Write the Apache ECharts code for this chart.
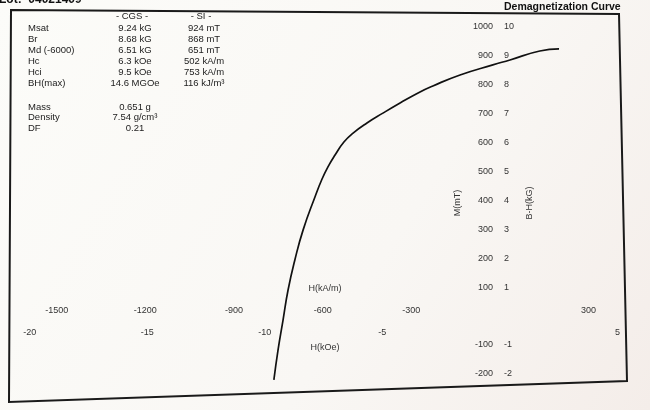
<!DOCTYPE html>
<html>
<head>
<meta charset="utf-8">
<script src="https://cdn.jsdelivr.net/npm/echarts@6/dist/echarts.min.js"></script>
<style>
html,body{margin:0;padding:0;background:#fafaf7;}
#chart{width:650px;height:410px;}
</style>
</head>
<body>
<div id="chart"></div>
<script>
// Demagnetization curve: H (kA/m) vs M (mT)
const hValues = [200, 135, 34, -24, -135, -227, -277, -338, -396, -450, -497, -528, -558, -582, -602, -626, -666, -694, -717, -734, -751, -765];
const mValues = [924, 917, 886, 869, 834, 796, 772, 737, 702, 668, 633, 602, 557, 516, 474, 412, 298, 194, 90, -14, -118, -221];

const hKAmTicks = [-1500, -1200, -900, -600, -300, 300];
const hKOeTicks = [-20, -15, -10, -5, 5];
const mTicks = [-200, -100, 100, 200, 300, 400, 500, 600, 700, 800, 900, 1000];
const bhTicks = [-2, -1, 1, 2, 3, 4, 5, 6, 7, 8, 9, 10];

const tableLabels = ['Msat', 'Br', 'Md (-6000)', 'Hc', 'Hci', 'BH(max)'];
const tableCGS = ['9.24 kG', '8.68 kG', '6.51 kG', '6.3 kOe', '9.5 kOe', '14.6 MGOe'];
const tableSI = ['924 mT', '868 mT', '651 mT', '502 kA/m', '753 kA/m', '116 kJ/m³'];
const extraLabels = ['Mass', 'Density', 'DF'];
const extraValues = ['0.651 g', '7.54 g/cm³', '0.21'];

const KOE_PER_KAM = 1 / 79.577;
const hMin = -1658, hMax = 474;
const mMin = -263, mMax = 1045;

// grid box
const W = 650, H = 410;
const gL = 10, gR = 10, gT = 14, gB = 18;
const gW = W - gL - gR, gH = H - gT - gB;
// pixel of the zero lines (so the axes can sit on them)
const zeroX = gL + (0 - hMin) / (hMax - hMin) * gW;
const zeroY = gT + (mMax - 0) / (mMax - mMin) * gH;

const chart = echarts.init(document.getElementById('chart'));
const font = 'Liberation Sans, Arial, sans-serif';
const txt = {fontFamily: font, fontSize: 9.5, fill: '#222'};

const graphics = [];
graphics.push({type: 'polygon', shape: {points: [[11, 10], [619, 14], [627, 381], [9, 402]]},
  style: {fill: 'none', stroke: '#1a1a1a', lineWidth: 2}, z: 1});
graphics.push({type: 'text', left: -1, top: -6, style: Object.assign({}, txt, {text: 'Lot:  04021409', fontWeight: 'bold', fontSize: 12, fill: '#111'})});
graphics.push({type: 'text', left: 504, top: 2, style: Object.assign({}, txt, {text: 'Demagnetization Curve', fontWeight: 'bold', fontSize: 10.5, fill: '#111'})});
graphics.push({type: 'text', x: 132, y: 16, style: Object.assign({}, txt, {text: '- CGS -', align: 'center', verticalAlign: 'middle'})});
graphics.push({type: 'text', x: 201, y: 16, style: Object.assign({}, txt, {text: '- SI -', align: 'center', verticalAlign: 'middle'})});
tableLabels.forEach((l, i) => {
  const y = 28 + i * 11.1;
  graphics.push({type: 'text', x: 28, y: y, style: Object.assign({}, txt, {text: l, verticalAlign: 'middle'})});
  graphics.push({type: 'text', x: 135, y: y, style: Object.assign({}, txt, {text: tableCGS[i], align: 'center', verticalAlign: 'middle'})});
  graphics.push({type: 'text', x: 204, y: y, style: Object.assign({}, txt, {text: tableSI[i], align: 'center', verticalAlign: 'middle'})});
});
extraLabels.forEach((l, i) => {
  const y = 107 + i * 10.7;
  graphics.push({type: 'text', x: 28, y: y, style: Object.assign({}, txt, {text: l, verticalAlign: 'middle'})});
  graphics.push({type: 'text', x: 135, y: y, style: Object.assign({}, txt, {text: extraValues[i], align: 'center', verticalAlign: 'middle'})});
});

const plain = v => String(Math.round(v));
const labelStyle = {fontFamily: font, fontSize: 9, color: '#333', formatter: plain};
const nameStyle = {fontFamily: font, fontSize: 9, color: '#333'};
const noLine = {show: false, onZero: false};

chart.setOption({
  backgroundColor: {type: 'linear', x: 0, y: 0, x2: 1, y2: 1,
    colorStops: [{offset: 0, color: '#fcfcf9'}, {offset: 0.6, color: '#f9f7f4'}, {offset: 1, color: '#f4ede9'}]},
  animation: false,
  grid: {left: gL, right: gR, top: gT, bottom: gB, show: false, containLabel: false, outerBoundsMode: 'none'},
  graphic: graphics,
  xAxis: [{
    type: 'value', min: hMin, max: hMax, position: 'top', offset: -(zeroY - gT),
    axisLine: noLine,
    axisTick: {show: false}, splitLine: {show: false},
    axisLabel: Object.assign({customValues: hKAmTicks, margin: 1}, labelStyle),
    name: 'H(kA/m)', nameLocation: 'middle', nameGap: 23, nameTextStyle: nameStyle
  }, {
    type: 'value', min: hMin * KOE_PER_KAM, max: hMax * KOE_PER_KAM, position: 'bottom', offset: -(gT + gH - zeroY),
    axisLine: noLine,
    axisTick: {show: false}, splitLine: {show: false},
    axisLabel: Object.assign({customValues: hKOeTicks, margin: 12}, labelStyle),
    name: 'H(kOe)', nameLocation: 'middle', nameGap: 27, nameTextStyle: nameStyle
  }],
  yAxis: [{
    type: 'value', min: mMin, max: mMax, position: 'left', offset: -(zeroX - gL),
    axisLine: noLine,
    axisTick: {show: false}, splitLine: {show: false},
    axisLabel: Object.assign({customValues: mTicks, margin: 7}, labelStyle),
    name: 'M(mT)', nameLocation: 'middle', nameGap: 28, nameTextStyle: nameStyle
  }, {
    type: 'value', min: mMin / 100, max: mMax / 100, position: 'right', offset: -(gL + gW - zeroX),
    axisLine: noLine,
    axisTick: {show: false}, splitLine: {show: false},
    axisLabel: Object.assign({customValues: bhTicks, margin: 4, align: 'left'}, labelStyle),
    name: 'B-H(kG)', nameLocation: 'middle', nameGap: 24, nameTextStyle: nameStyle
  }],
  series: [{
    type: 'line', xAxisIndex: 0, yAxisIndex: 0,
    data: hValues.map((h, i) => [h, mValues[i]]),
    showSymbol: false, smooth: 0.5,
    lineStyle: {color: '#111', width: 1.7}, z: 3
  }]
});
</script>
</body>
</html>
